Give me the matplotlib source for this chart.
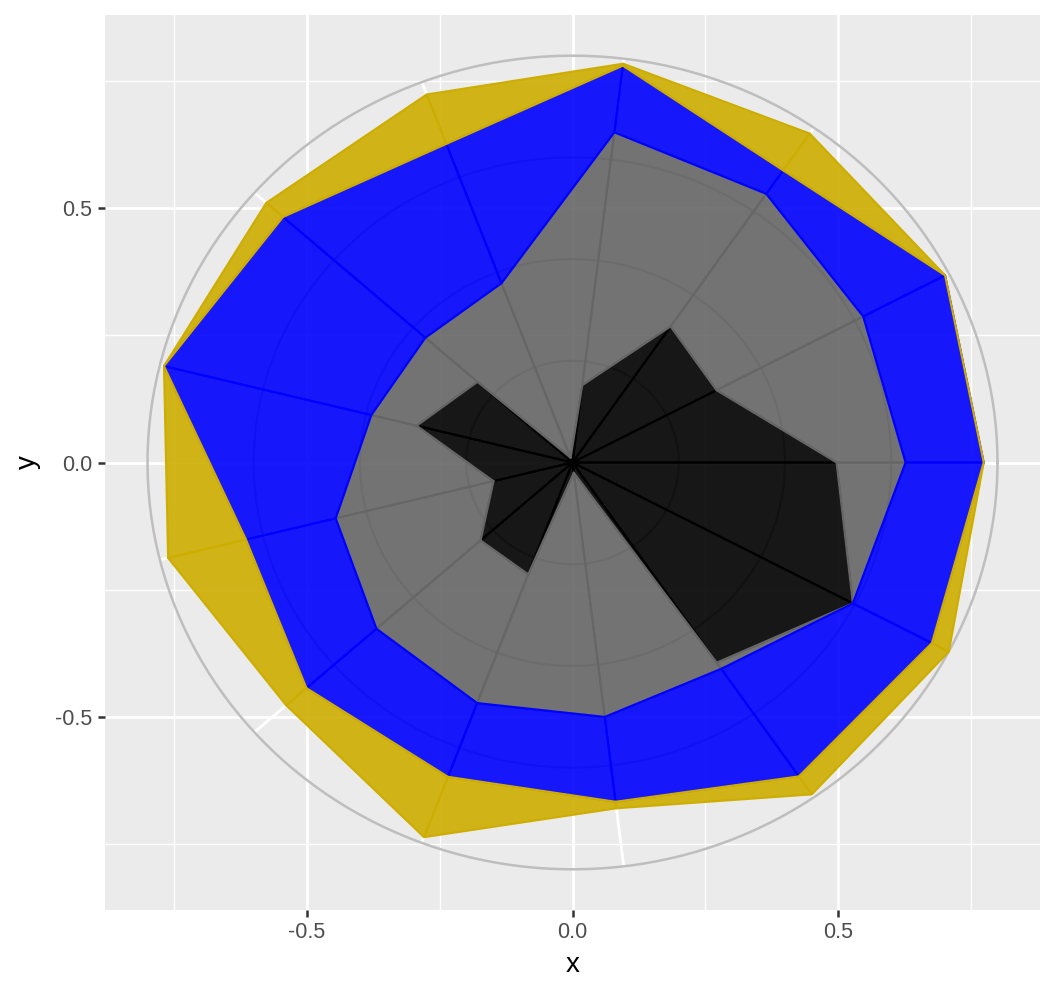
import numpy as np
import matplotlib
matplotlib.use("Agg")
import matplotlib.pyplot as plt
from matplotlib.collections import PolyCollection
from matplotlib.colors import to_rgba

plt.rcParams['font.family'] = ['Liberation Sans', 'DejaVu Sans']

# 13 categories, going round counter-clockwise from the x axis
n_cat = 13

# layer thickness at each category (stacked from the centre outwards)
black_vals = [0.497, 0.306, 0.325, 0.153, 0.010, 0.239, 0.302, 0.153, 0.231, 0.235, 0.020, 0.478, 0.596]
grey_vals = [0.130, 0.312, 0.317, 0.501, 0.367, 0.131, 0.088, 0.306, 0.262, 0.271, 0.484, 0.015, 0.000]
blue_vals = [0.147, 0.174, 0.056, 0.132, 0.293, 0.358, 0.402, 0.174, 0.176, 0.155, 0.168, 0.257, 0.168]
gold_vals = [0.000, 0.000, 0.088, 0.004, 0.104, 0.042, 0.000, 0.151, 0.051, 0.127, 0.013, 0.043, 0.036]

layers = [(black_vals, '#000000'), (grey_vals, '#666666'), (blue_vals, '#0000FF'), (gold_vals, '#CDAD00')]

outer_r = 0.8
ring_r = [0.2, 0.4, 0.6]
ticks_major = [-0.5, 0.0, 0.5]
ticks_minor = [-0.75, -0.25, 0.25, 0.75]
lim = 0.88

theta = 2 * np.pi * np.arange(n_cat) / n_cat

fig = plt.figure(figsize=(10.56, 9.98), dpi=100)
ax = fig.add_axes([105 / 1056, 1 - 910 / 998, 935 / 1056, 895 / 998])
ax.set_facecolor('#EBEBEB')
ax.set_xlim(-lim, lim)
ax.set_ylim(-lim, lim)

# panel grid
for t in ticks_minor:
    ax.axvline(t, color='white', lw=1.0, zorder=0.5)
    ax.axhline(t, color='white', lw=1.0, zorder=0.5)
for t in ticks_major:
    ax.axvline(t, color='white', lw=2.0, zorder=0.6)
    ax.axhline(t, color='white', lw=2.0, zorder=0.6)

# radar background: spokes, rings, outer circle
phi = np.linspace(0, 2 * np.pi, 400)
for th in theta:
    ax.plot([0, outer_r * np.cos(th)], [0, outer_r * np.sin(th)], color='white', lw=2.0, zorder=1)
for r in ring_r:
    ax.plot(r * np.cos(phi), r * np.sin(phi), color='#A8A8A8', lw=1.6, zorder=1.1)
ax.plot(outer_r * np.cos(phi), outer_r * np.sin(phi), color='#BEBEBE', lw=1.8, zorder=1.2)

# stacked wedge layers
base = np.zeros(n_cat)
for i, (vals, col) in enumerate(layers):
    top = base + np.array(vals)
    polys = []
    for k in range(n_cat):
        j = (k + 1) % n_cat
        polys.append([
            (base[k] * np.cos(theta[k]), base[k] * np.sin(theta[k])),
            (top[k] * np.cos(theta[k]), top[k] * np.sin(theta[k])),
            (top[j] * np.cos(theta[j]), top[j] * np.sin(theta[j])),
            (base[j] * np.cos(theta[j]), base[j] * np.sin(theta[j])),
        ])
    pc = PolyCollection(polys, facecolors=to_rgba(col, 0.9), edgecolors=col, linewidths=1.5, zorder=2 + i)
    ax.add_collection(pc)
    base = top

ax.set_xticks(ticks_major)
ax.set_yticks(ticks_major)
ax.set_xticklabels(['-0.5', '0.0', '0.5'])
ax.set_yticklabels(['-0.5', '0.0', '0.5'])
ax.tick_params(axis='both', length=5, width=1.8, color='#333333', labelcolor='#4D4D4D', labelsize=15.5, pad=4)
for s in ax.spines.values():
    s.set_visible(False)

ax.set_xlabel('x', fontsize=20, labelpad=6)
ax.set_ylabel('y', fontsize=20, labelpad=10)

fig.savefig('out.png', dpi=100, facecolor='white')
